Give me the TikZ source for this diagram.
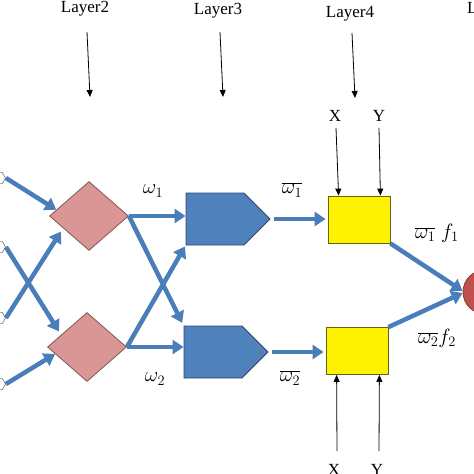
\documentclass[tikz,border=0pt]{standalone}
\usepackage{fontspec}
\setmainfont{Liberation Serif}
\usetikzlibrary{shapes.geometric,shapes.symbols,arrows.meta,calc}
\definecolor{arrblue}{RGB}{74,126,187}
\definecolor{pentfill}{RGB}{79,129,189}
\definecolor{pentline}{RGB}{45,70,105}
\definecolor{diafill}{RGB}{217,150,148}
\definecolor{dialine}{RGB}{130,85,83}
\definecolor{yelline}{RGB}{100,100,20}
\definecolor{redfill}{RGB}{192,80,77}
\definecolor{redline}{RGB}{140,56,54}
\begin{document}
\begin{tikzpicture}[x=1pt,y=-1pt,
  bluearrow/.style={draw=arrblue, line width=4.5pt, -{Triangle[length=11pt,width=14pt]}},
  thinarrow/.style={draw=black, line width=0.8pt, -{Triangle[length=7pt,width=6pt]}},
  txt/.style={font=\fontsize{17}{19}\selectfont, inner sep=0pt},
  wlabel/.style={font=\fontsize{20}{22}\selectfont, inner sep=0pt},
  diamondnode/.style={diamond, draw=dialine, fill=diafill, line width=0.8pt, minimum width=79pt, minimum height=69pt, inner sep=0pt},
  pentnode/.style={signal, signal to=east, draw=pentline, fill=pentfill, line width=0.9pt, minimum width=84pt, minimum height=52pt, inner sep=0pt},
  yellownode/.style={rectangle, draw=yelline, fill=yellow, line width=0.8pt, minimum width=62pt, minimum height=47pt, inner sep=0pt},
  hexnode/.style={regular polygon, regular polygon sides=6, draw=gray, fill=white, line width=0.7pt, minimum size=13pt, inner sep=0pt},
  rednode/.style={circle, draw=redline, fill=redfill, line width=0.8pt, minimum size=44pt, inner sep=0pt},
  ]
\useasboundingbox (0,0) rectangle (474,474);
\clip (0,0) rectangle (474,474);

% input hexagons (partly outside)
\node[hexnode] (h1) at (-1,178) {};
\node[hexnode] (h2) at (-1,247) {};
\node[hexnode] (h3) at (-1,318) {};
\node[hexnode] (h4) at (-1,384) {};

% layer 2 diamonds
\node[diamondnode] (d1) at (89,216) {};
\node[diamondnode] (d2) at (87,347) {};

% layer 3 pentagons
\node[pentnode] (p1) at (215,219) {};
\node[pentnode] (p2) at (213,352) {};

% layer 4 boxes
\node[yellownode] (y1) at (359,219.5) {};
\node[yellownode] (y2) at (357,351) {};

% output circle
\node[rednode] (c) at (485,292) {};

% layer labels
\node[txt] (l2) at (85,9) {Layer2};
\node[txt] (l3) at (218,11) {Layer3};
\node[txt] (l4) at (350,14) {Layer4};
\node[txt, anchor=west] (l5) at (467,10) {Layer5};
\coordinate (l2s) at (87,32);
\coordinate (l2e) at (90,97);
\coordinate (l3s) at (220,32);
\coordinate (l3e) at (223,97);
\coordinate (l4s) at (352,33);
\coordinate (l4e) at (355,98);
\draw[thinarrow] (l2s) -- (l2e);
\draw[thinarrow] (l3s) -- (l3e);
\draw[thinarrow] (l4s) -- (l4e);

% X Y inputs
\node[txt] (x1) at (335,116) {X};
\node[txt] (yy1) at (379,116) {Y};
\node[txt] (x2) at (334,470) {X};
\node[txt] (yy2) at (377,470) {Y};
\draw[thinarrow] ($(x1.south)+(1,6)$) -- ($(y1.north west)+(11,0)$);
\draw[thinarrow] ($(yy1.south)+(0,6)$) -- ($(y1.north east)+(-10,0)$);
\draw[thinarrow] (337,451) -- ($(y2.south west)+(11,0)$);
\draw[thinarrow] (379,451) -- ($(y2.south east)+(-9,0)$);

% input arrows
\draw[bluearrow] (h1.east) -- ($(d1.west)!0.18!(d1.north)$);
\draw[bluearrow, shorten >=4pt] (h2.east) -- ($(d2.west)!0.35!(d2.north)$);
\draw[bluearrow, shorten >=4pt] (h3.east) -- ($(d1.west)!0.35!(d1.south)$);
\draw[bluearrow] (h4.east) -- ($(d2.west)!0.2!(d2.south)$);

% diamond -> pentagon
\draw[bluearrow] (d1.east) -- (d1.east -| p1.west);
\draw[bluearrow, shorten >=3pt] (d1.east) -- (p2.north west);
\draw[bluearrow] (d2.east) -- (d2.east -| p2.west);
\draw[bluearrow, shorten >=1pt] (d2.east) -- (p1.south west);

% pentagon -> box
\draw[bluearrow, shorten <=3pt, shorten >=2pt] (p1.east) -- (p1.east -| y1.west);
\draw[bluearrow, shorten <=3pt, shorten >=2pt] (p2.east) -- (p2.east -| y2.west);

% box -> output
\draw[bluearrow] (y1.south east) -- ($(c.west)+(0,-1)$);
\draw[bluearrow] (y2.north east) -- ($(c.west)+(0,1)$);

% weight labels
\node[wlabel] (w1) at (153,191) {$\omega_1$};
\node[wlabel] (w2) at (155,379) {$\omega_2$};
\node[wlabel] (wb1) at (292,190) {$\overline{\omega_1}$};
\node[wlabel] (wb2) at (290,378) {$\overline{\omega_2}$};
\node[wlabel] (wf1) at (437,233) {$\overline{\omega_1}\;f_1$};
\node[wlabel] (wf2) at (437,338) {$\overline{\omega_2}f_2$};
\end{tikzpicture}
\end{document}
